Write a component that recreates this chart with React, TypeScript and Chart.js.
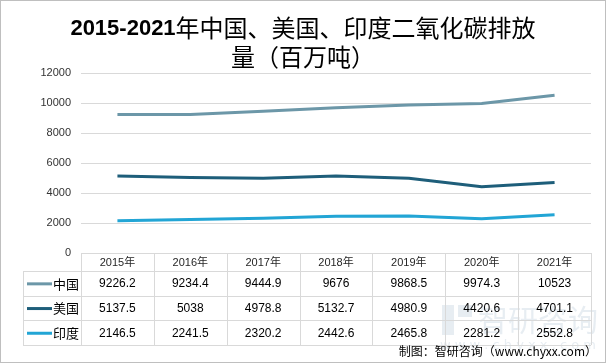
import React, { useEffect, useRef } from "react";
import { Chart, registerables } from "chart.js";

Chart.register(...registerables);

const years = ["2015年", "2016年", "2017年", "2018年", "2019年", "2020年", "2021年"];
const china = [9226.2, 9234.4, 9444.9, 9676, 9868.5, 9974.3, 10523];
const usa = [5137.5, 5038, 4978.8, 5132.7, 4980.9, 4420.6, 4701.1];
const india = [2146.5, 2241.5, 2320.2, 2442.6, 2465.8, 2281.2, 2552.8];
const seriesNames = ["中国", "美国", "印度"];
const seriesColors = ["#6C97A8", "#1E5E7A", "#22A5D5"];
const titleNum = "2015-2021";
const titleRest1 = "年中国、美国、印度二氧化碳排放";
const titleLine2 = "量（百万吨）";
const sourceText = "制图：智研咨询（www.chyxx.com）";

const W = 606;
const H = 363;

const tablePlugin = {
  id: "tablePlugin",
  beforeDraw(chart: any) {
    const ctx = chart.ctx;
    ctx.save();
    ctx.fillStyle = "#ffffff";
    ctx.fillRect(0, 0, W, H);
    ctx.restore();
  },
  afterDraw(chart: any) {
    const ctx = chart.ctx;
    const area = chart.chartArea;
    const xs = chart.scales.x;
    const n = years.length;
    const colW = (area.right - area.left) / n;
    const legendLeft = 23;
    const headerTop = area.bottom;
    const headerBottom = headerTop + 18;
    const rowH = 24.7;
    const tableBottom = headerBottom + rowH * 3;
    const all = [china, usa, india];

    ctx.save();
    // title
    const cx = 303;
    ctx.textBaseline = "middle";
    ctx.fillStyle = "#000000";
    const fNum = 'bold 22px "Liberation Sans"';
    const fCjk = '24px "Noto Sans CJK SC"';
    ctx.font = fNum;
    const wNum = ctx.measureText(titleNum).width;
    ctx.font = fCjk;
    const wRest = ctx.measureText(titleRest1).width;
    const tx = cx - (wNum + wRest) / 2;
    ctx.textAlign = "left";
    ctx.font = fNum;
    ctx.fillText(titleNum, tx, 29);
    ctx.font = fCjk;
    ctx.fillText(titleRest1, tx + wNum, 28);
    ctx.textAlign = "center";
    ctx.fillText(titleLine2, cx, 57);

    // watermark
    ctx.fillStyle = "rgba(170,190,210,0.28)";
    ctx.font = '30px "Noto Sans CJK SC"';
    ctx.textAlign = "left";
    ctx.fillText("智研咨询", 478, 320);
    ctx.fillRect(442, 305, 12, 30);
    ctx.fillRect(458, 305, 14, 12);
    ctx.font = '13px "DejaVu Sans"';
    ctx.fillText("w w w . c h y x x . c o m", 440, 346);

    // grid lines of the table
    ctx.strokeStyle = "#d9d9d9";
    ctx.lineWidth = 1;
    ctx.beginPath();
    for (let i = 0; i <= n; i++) {
      const x = Math.round(area.left + colW * i) + 0.5;
      ctx.moveTo(x, headerTop);
      ctx.lineTo(x, tableBottom);
    }
    ctx.moveTo(legendLeft + 0.5, headerBottom);
    ctx.lineTo(legendLeft + 0.5, tableBottom);
    for (let r = 0; r <= 3; r++) {
      const y = Math.round(headerBottom + rowH * r) + 0.5;
      ctx.moveTo(legendLeft, y);
      ctx.lineTo(area.right, y);
    }
    ctx.stroke();

    // header
    ctx.fillStyle = "#262626";
    ctx.font = '11px "Liberation Sans", "Noto Sans CJK SC"';
    ctx.textAlign = "center";
    years.forEach((y, i) => {
      ctx.fillText(y, xs.getPixelForValue(i), (headerTop + headerBottom) / 2 + 1);
    });

    // rows
    all.forEach((arr, r) => {
      const cy = headerBottom + rowH * r + rowH / 2 + 0.5;
      ctx.strokeStyle = seriesColors[r];
      ctx.lineWidth = 3;
      ctx.beginPath();
      ctx.moveTo(27, cy);
      ctx.lineTo(52, cy);
      ctx.stroke();
      ctx.fillStyle = "#000000";
      ctx.font = '13px "Noto Sans CJK SC"';
      ctx.textAlign = "left";
      ctx.fillText(seriesNames[r], 53, cy);
      ctx.font = '12px "Liberation Sans"';
      ctx.textAlign = "center";
      arr.forEach((v, i) => {
        ctx.fillText(String(v), xs.getPixelForValue(i), cy);
      });
    });

    // source
    ctx.fillStyle = "#000000";
    ctx.font = '12px "Noto Sans CJK SC"';
    ctx.textAlign = "right";
    ctx.fillText(sourceText, 597, 351);

    // outer border
    ctx.strokeStyle = "#bfbfbf";
    ctx.lineWidth = 1;
    ctx.strokeRect(0.5, 0.5, W - 1, H - 1);
    ctx.restore();
  },
};

export default function App() {
  const ref = useRef<HTMLCanvasElement | null>(null);
  useEffect(() => {
    if (!ref.current) return;
    const chart = new Chart(ref.current, {
      type: "line",
      data: {
        labels: years,
        datasets: [
          { label: seriesNames[0], data: china, borderColor: seriesColors[0], backgroundColor: seriesColors[0], borderWidth: 3, pointRadius: 0, tension: 0 },
          { label: seriesNames[1], data: usa, borderColor: seriesColors[1], backgroundColor: seriesColors[1], borderWidth: 3, pointRadius: 0, tension: 0 },
          { label: seriesNames[2], data: india, borderColor: seriesColors[2], backgroundColor: seriesColors[2], borderWidth: 3, pointRadius: 0, tension: 0 },
        ],
      },
      options: {
        responsive: false,
        animation: false,
        devicePixelRatio: 1,
        layout: { padding: { left: 0, right: 15, top: 73, bottom: 110 } },
        plugins: {
          legend: { display: false },
          tooltip: { enabled: false },
          title: { display: false },
        },
        scales: {
          x: { display: false, offset: true },
          y: {
            min: 0,
            max: 12000,
            afterFit: (s: any) => { s.width = 81; },
            ticks: { stepSize: 2000, padding: 10, color: "#333333", font: { size: 11, family: '"Liberation Sans"' }, callback: (v: any) => String(v) },
            grid: { color: "#d9d9d9", drawTicks: false },
            border: { display: false },
          },
        },
      },
      plugins: [tablePlugin],
    });
    return () => chart.destroy();
  }, []);
  return (
    <div style={{ position: "fixed", left: 0, top: 0, width: W, height: H }}>
      <canvas ref={ref} width={W} height={H} style={{ width: W, height: H, display: "block" }} />
    </div>
  );
}
